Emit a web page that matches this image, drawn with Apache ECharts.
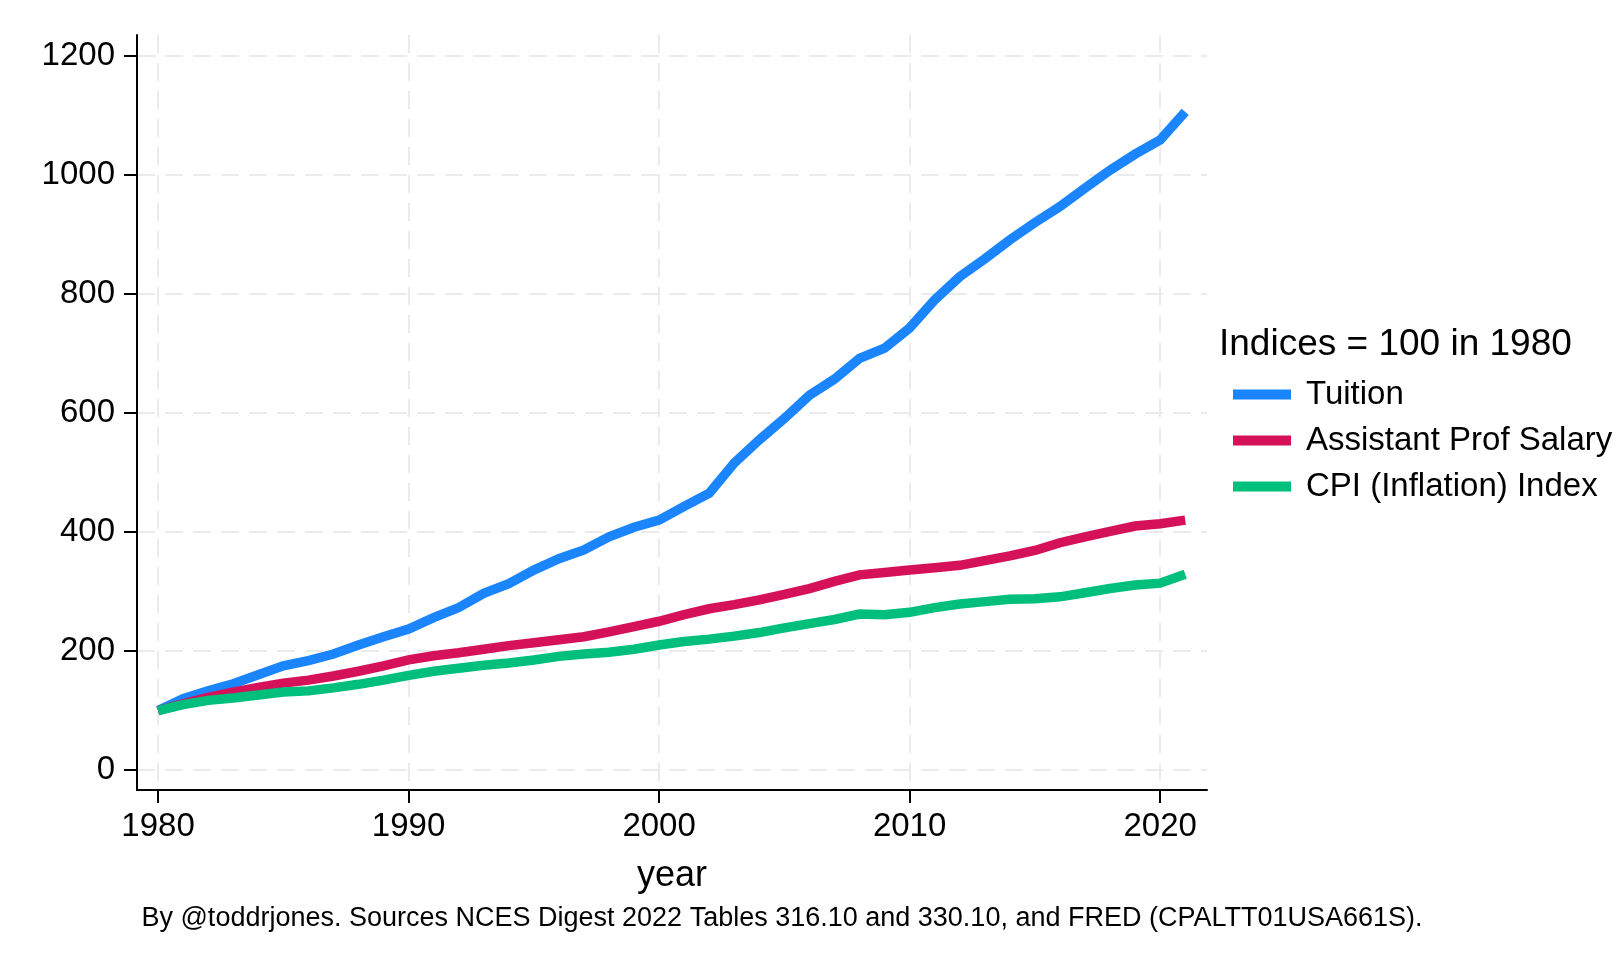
<!DOCTYPE html>
<html>
<head>
<meta charset="utf-8">
<script src="https://cdn.jsdelivr.net/npm/echarts@6/dist/echarts.min.js"></script>
<style>
html,body{margin:0;padding:0;background:#fff;}
#chart{width:1620px;height:972px;}
</style>
</head>
<body>
<div id="chart"></div>
<script>
const years = [1980,1981,1982,1983,1984,1985,1986,1987,1988,1989,1990,1991,1992,1993,1994,1995,1996,1997,1998,1999,2000,2001,2002,2003,2004,2005,2006,2007,2008,2009,2010,2011,2012,2013,2014,2015,2016,2017,2018,2019,2020,2021];
const tuition = [100,120,133,145,160,175,184,195,210,224,237,256,273,297,313,336,355,370,392,408,420,443,465,516,555,591,630,657,692,709,743,790,829,859,891,920,947,978,1008,1035,1059,1106];
const salary = [100,111,122,131,139,146,151,158,166,175,185,192,197,203,209,214,219,224,232,241,250,261,271,278,286,295,305,317,328,332,336,340,344,352,360,369,382,392,401,410,414,420];
const cpi = [100,110,117,121,126,131,133,138,144,151,159,166,171,176,180,185,191,195,198,203,210,216,220,225,231,239,246,253,262,261,265,273,279,283,287,288,291,298,305,311,314,329];
const xTicks = [1980,1990,2000,2010,2020];
const yTicks = [0,200,400,600,800,1000,1200];
const seriesNames = ['Tuition','Assistant Prof Salary','CPI (Inflation) Index'];
const colors = ['#1A85FF','#D41159','#00BF7D'];
const legendTitle = 'Indices = 100 in 1980';
const xName = 'year';
const caption = 'By @toddrjones. Sources NCES Digest 2022 Tables 316.10 and 330.10, and FRED (CPALTT01USA661S).';

const FONT = '"Liberation Sans", Arial, Helvetica, sans-serif';
const pair = arr => years.map((y, i) => [y, arr[i]]);
const gridLine = { show: true, lineStyle: { color: '#ebebeb', width: 2, type: [18, 10] } };

const chart = echarts.init(document.getElementById('chart'), null, { renderer: 'canvas' });
chart.setOption({
  backgroundColor: '#ffffff',
  animation: false,
  textStyle: { fontFamily: FONT },
  grid: { left: 137, right: 413, top: 35, bottom: 182, containLabel: false },
  xAxis: {
    type: 'value', min: 1979.16, max: 2021.87,
    name: xName, nameLocation: 'middle', nameGap: 68,
    nameTextStyle: { fontFamily: FONT, fontSize: 36, color: '#000' },
    axisLine: { show: true, onZero: false, lineStyle: { color: '#000', width: 2 } },
    axisTick: { show: true, length: 13, lineStyle: { color: '#000', width: 2 }, customValues: xTicks },
    axisLabel: { show: true, customValues: xTicks, margin: 20, fontSize: 33, color: '#000', fontFamily: FONT, formatter: v => String(v) },
    splitLine: gridLine
  },
  yAxis: {
    type: 'value', min: -33.6, max: 1235.3,
    axisLine: { show: true, onZero: false, lineStyle: { color: '#000', width: 2 } },
    axisTick: { show: true, length: 13, lineStyle: { color: '#000', width: 2 }, customValues: yTicks },
    axisLabel: { show: true, customValues: yTicks, margin: 22, fontSize: 33, color: '#000', fontFamily: FONT, formatter: v => String(v) },
    splitLine: gridLine
  },
  legend: {
    orient: 'vertical', left: 1228, top: 373,
    icon: 'rect', itemWidth: 58, itemHeight: 10, itemGap: 13,
    data: seriesNames,
    textStyle: { fontSize: 33, color: '#000', fontFamily: FONT, lineHeight: 33, padding: [0, 0, 0, 10] }
  },
  graphic: [
    { type: 'text', left: 1219, top: 326, style: { text: legendTitle, font: '37px ' + FONT, fill: '#000' } },
    { type: 'text', x: 782, y: 919, style: { text: caption, font: '27px ' + FONT, fill: '#000', textAlign: 'center', textVerticalAlign: 'middle' } }
  ],
  series: seriesNames.map((n, i) => ({
    name: n, type: 'line', data: pair([tuition, salary, cpi][i]),
    showSymbol: false, symbol: 'none', color: colors[i],
    lineStyle: { width: 9.5, color: colors[i], cap: 'butt', join: 'miter' },
    z: 3 + i
  }))
});
</script>
</body>
</html>
